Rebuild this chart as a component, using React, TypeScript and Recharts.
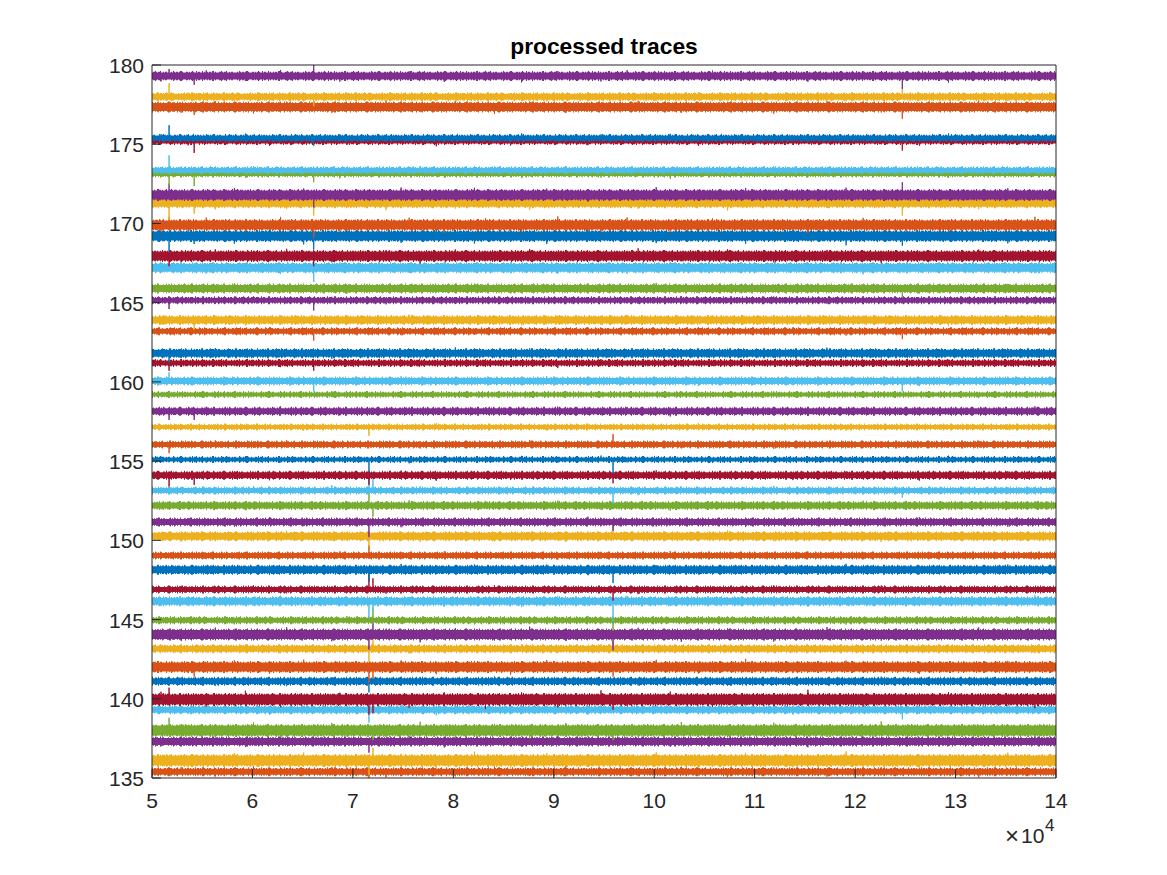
import { Line, LineChart, XAxis, YAxis } from 'recharts';

const xTicks = [50000, 60000, 70000, 80000, 90000, 100000, 110000, 120000, 130000, 140000];
const yTicks = [135, 140, 145, 150, 155, 160, 165, 170, 175, 180];

// baseline of each trace, bottom to top
const levels = [
  135.4, 136.1, 137.3, 138.0, 139.3, 139.95, 141.1, 142.0, 143.15, 144.05, 144.95, 146.15, 146.9, 148.15, 149.05,
  150.25, 151.15, 152.2, 153.15, 154.1, 155.1, 156.05, 157.15, 158.15, 159.2, 160.05, 161.2, 161.8, 163.2, 163.9,
  165.15, 165.9, 167.2, 167.95, 169.2, 169.9, 171.3, 171.8, 173.15, 173.35, 175.2, 175.4, 177.35, 178.0, 179.3,
];

// solid thickness of the noise band of each trace, px
const bandPx = [
  6, 10, 7, 10, 6, 10, 6, 9, 6, 9, 5, 7, 5, 7, 5,
  7, 6, 6, 5, 6, 4, 5, 4, 6, 4, 6, 5, 7, 5, 7,
  5, 7, 8, 9, 9, 9, 8, 9, 5, 5, 5, 5, 8, 6, 7,
];

const colorCycle = ['#D95319', '#EDB120', '#7E2F8E', '#77AC30', '#4DBEEE', '#A2142F', '#0072BD'];

const sampleTimes = [
  [52900, 56300, 60100, 63400, 67900, 73300, 76700, 80200, 84100, 87600, 91200, 98400, 102700, 107300, 111900, 117200, 122600, 132300],
  [53600, 58200, 61700, 65100, 69400, 74800, 78300, 82100, 85700, 89300, 93400, 100200, 104400, 109100, 113800, 119100, 126400, 135200],
  [50900, 55400, 59300, 62800, 68700, 75600, 79100, 83200, 86800, 90400, 94700, 97300, 101600, 105800, 115300, 120800, 129300, 137900],
];

// noise excursions around the baseline, hundredths of a y unit
const noiseRows = [
  [28, -31, 34, -27, 30, -36, 26, -30, 33, -28, 37, -29, 31, -34, 27, -32, 29, -35],
  [-44, 48, -42, 51, -46, 43, -49, 56, -44, 47, -41, 52, -45, 49, -43, 58, -47, 50],
  [-30, 27, -34, 31, -28, 33, -37, 29, -31, 35, -27, 30, -33, 28, -36, 32, -29, 34],
  [41, -46, 52, -40, 48, -43, 55, -47, 42, -50, 46, -41, 53, -44, 49, -42, 57, -45],
  [-25, 29, -31, 24, -27, 30, -34, 26, -28, 23, -30, 27, -25, 32, -29, 24, -26, 31],
  [50, -44, 56, -48, 43, -53, 47, -60, 45, -49, 58, -42, 51, -46, 62, -44, 48, -55],
  [24, -27, 22, -30, 26, -23, 28, -25, 31, -22, 27, -26, 23, -29, 25, -24, 30, -27],
  [-38, 43, -41, 47, -36, 42, -45, 39, -48, 44, -37, 46, -40, 52, -38, 41, -44, 40],
  [26, -24, 29, -27, 23, -31, 25, -22, 28, -26, 30, -23, 27, -25, 24, -29, 26, -28],
  [-39, 44, -36, 47, -42, 38, -49, 41, -37, 50, -40, 43, -46, 39, -44, 48, -38, 45],
  [21, -25, 24, -20, 27, -23, 19, -26, 22, -24, 28, -21, 25, -19, 23, -27, 20, -24],
  [-30, 33, -28, 36, -31, 27, -34, 29, -37, 32, -26, 35, -30, 28, -33, 31, -29, 38],
  [23, -20, 26, -24, 19, -27, 22, -25, 28, -21, 24, -30, 20, -23, 26, -22, 25, -19],
  [-31, 29, -34, 27, -30, 36, -28, 33, -26, 32, -35, 28, -31, 30, -27, 37, -29, 33],
  [20, -24, 22, -19, 26, -23, 25, -21, 19, -27, 23, -20, 28, -22, 24, -25, 21, -26],
  [-33, 28, -30, 35, -27, 31, -36, 29, -32, 26, -34, 30, -28, 37, -31, 27, -35, 29],
  [26, -29, 31, -25, 28, -33, 24, -27, 30, -26, 34, -28, 25, -31, 27, -24, 32, -29],
  [-24, 28, -30, 25, -27, 32, -26, 29, -23, 31, -28, 24, -33, 27, -25, 30, -29, 26],
  [22, -25, 28, -21, 34, -23, 26, -20, 24, -27, 21, -30, 25, -22, 29, -24, 20, -26],
  [-28, 24, -31, 27, -25, 30, -34, 26, -29, 23, -27, 32, -24, 28, -30, 25, -33, 27],
  [17, -20, 22, -18, 19, -24, 21, -17, 23, -19, 25, -18, 20, -22, 18, -21, 24, -19],
  [-22, 25, -20, 27, -23, 19, -26, 21, -24, 28, -19, 22, -25, 20, -27, 23, -21, 24],
  [18, -21, 16, -23, 20, -18, 24, -17, 19, -22, 21, -16, 25, -20, 18, -24, 17, -19],
  [-25, 28, -23, 30, -27, 24, -31, 26, -22, 29, -25, 27, -33, 23, -28, 25, -24, 31],
  [16, -19, 18, -15, 21, -17, 14, -20, 17, -18, 22, -16, 19, -14, 20, -18, 15, -21],
  [-26, 24, -29, 27, -23, 30, -25, 22, -28, 31, -24, 26, -30, 23, -27, 25, -32, 28],
  [21, -24, 19, -27, 23, -20, 25, -22, 18, -33, 24, -21, 26, -19, 22, -25, 20, -23],
  [-29, 33, -27, 30, -35, 28, -31, 38, -26, 32, -30, 27, -34, 29, -28, 36, -31, 30],
  [22, -19, 25, -23, 18, -26, 21, -24, 27, -20, 23, -22, 26, -19, 24, -28, 21, -25],
  [-30, 27, -33, 29, -26, 35, -28, 31, -34, 27, -30, 33, -25, 29, -32, 28, -36, 31],
  [20, -23, 25, -19, 22, -26, 18, -24, 27, -21, 23, -20, 26, -18, 24, -22, 19, -25],
  [-28, 32, -30, 27, -34, 29, -26, 31, -33, 28, -29, 35, -27, 30, -31, 26, -32, 29],
  [33, -36, 30, -38, 35, -31, 40, -34, 29, -37, 32, -39, 36, -30, 34, -41, 31, -35],
  [-38, 42, -35, 45, -40, 37, -47, 41, -36, 44, -39, 48, -34, 43, -41, 38, -46, 40],
  [44, -48, 41, -52, 46, -43, 55, -47, 42, -50, 45, -44, 53, -49, 43, -58, 47, -46],
  [-42, 47, -44, 51, -40, 46, -49, 43, -45, 54, -41, 48, -46, 42, -50, 45, -43, 52],
  [32, -41, 35, -38, 30, -46, 33, -36, 29, -43, 34, -37, 31, -48, 36, -33, 28, -40],
  [-36, 43, -39, 41, -34, 47, -38, 45, -35, 40, -42, 49, -37, 44, -33, 46, -40, 42],
  [-24, 20, -27, 19, -31, 22, -25, 18, -29, 21, -26, 20, -33, 19, -24, 23, -28, 20],
  [23, -18, 26, -17, 22, -19, 28, -16, 24, -18, 27, -17, 21, -19, 25, -16, 23, -18],
  [-27, 18, -30, 17, -25, 19, -33, 18, -28, 16, -26, 19, -31, 17, -24, 18, -29, 20],
  [24, -17, 27, -16, 22, -18, 25, -15, 29, -17, 23, -18, 26, -16, 21, -17, 28, -15],
  [-36, 38, -41, 34, -37, 42, -33, 39, -44, 35, -38, 40, -36, 33, -42, 37, -34, 41],
  [26, -28, 24, -31, 27, -25, 29, -27, 23, -30, 26, -24, 28, -26, 25, -29, 24, -27],
  [-34, 36, -31, 39, -35, 30, -37, 33, -40, 32, -34, 38, -30, 35, -36, 31, -41, 34],
];

// tall transients: [trace, peak]
const spikes51700: number[][] = [
  [44, 179.75], [43, 178.85], [41, 176.2], [39, 174.3], [38, 172.4], [37, 172.5], [36, 170.2], [35, 170.4], [34, 168.2],
  [33, 167.3], [30, 164.6], [27, 161.2], [26, 160.7], [25, 160.6], [23, 157.6], [21, 155.5], [19, 153.4], [5, 140.7], [3, 138.8],
];
const spikes54200: number[][] = [
  [44, 178.75], [42, 176.85], [40, 174.45], [38, 172.35], [36, 170.6], [34, 168.7], [29, 163.3], [23, 157.6], [19, 153.5], [7, 141.4],
];
const spikes66100: number[][] = [
  [44, 180], [43, 177.4], [41, 174.9], [38, 172.6], [37, 171.0], [36, 170.5], [35, 169.1], [34, 168.35], [33, 167.3], [32, 166.3],
  [30, 164.5], [28, 162.6], [26, 160.7], [25, 159.4],
];
const spikes71600: number[][] = [
  [22, 156.6], [20, 154.3], [19, 153.5], [18, 154.0], [17, 153.0], [16, 150.2], [15, 149.6], [14, 149.7], [13, 147.4], [12, 148.2],
  [11, 145.1], [9, 143.1], [8, 142.3], [7, 141.0], [6, 140.4], [5, 139.0], [4, 138.5], [2, 136.6], [1, 135.2], [0, 135.0],
];
const spikes72000: number[][] = [
  [18, 153.9], [17, 151.5], [12, 147.6], [11, 145.5], [10, 145.7], [9, 144.8], [8, 143.8], [7, 141.3], [5, 139.1], [3, 137.4], [1, 136.9],
];
const spikes95900: number[][] = [
  [21, 156.7], [20, 154.2], [19, 153.6], [18, 152.3], [16, 150.6], [15, 150.9], [13, 147.3], [12, 146.2], [11, 144.9], [10, 144.3],
  [9, 143.05], [8, 143.7], [7, 141.4], [5, 139.3], [3, 137.4],
];
const spikes124700: number[][] = [
  [44, 178.5], [43, 178.6], [42, 176.6], [40, 174.6], [37, 172.6], [36, 170.5], [34, 168.6], [31, 165.3], [28, 162.7], [25, 159.4], [18, 152.7], [4, 138.7],
];
const spikeTimes = [51700, 54200, 66100, 71600, 72000, 95900, 124700];
const spikeLists = [spikes51700, spikes54200, spikes66100, spikes71600, spikes72000, spikes95900, spikes124700];

const FONT = 'Liberation Sans, Arial, sans-serif';
const INK = '#262626';
const TICK = 9;
const DENSE_DASH = '1 1 2 1 1 2 1 3 2 1 1 1 3 2 1 1 2 4 1 2';
const SPARSE_DASH = '1 5 1 9 2 7 1 4 1 12 1 6 2 10 1 3';

function traceHairs(i: number) {
  const level = levels[i];
  const hits = sampleTimes[i % 3].map((t, j) => [t, level + noiseRows[i][j] / 100]);
  spikeLists.forEach((list, k) => {
    list.forEach(([trace, peak]) => {
      if (trace === i) hits.push([spikeTimes[k], peak]);
    });
  });
  hits.sort((a, b) => a[0] - b[0]);
  const rows = [{ x: 50000, y: level }];
  hits.forEach(([x, peak]) => {
    rows.push({ x, y: level }, { x, y: peak }, { x, y: level });
  });
  rows.push({ x: 140000, y: level });
  return rows;
}

const BottomTick = ({ x, y, payload }: any) => (
  <g>
    <line x1={x} x2={x} y1={y} y2={y - TICK} stroke={INK} />
    <text x={x} y={y + 30} textAnchor="middle" fontFamily={FONT} fontSize={21} fill={INK}>
      {payload.value / 10000}
    </text>
  </g>
);
const TopTick = ({ x, y }: any) => <line x1={x} x2={x} y1={y} y2={y + TICK} stroke={INK} />;
const LeftTick = ({ x, y, payload }: any) => (
  <g>
    <line x1={x} x2={x + TICK} y1={y} y2={y} stroke={INK} />
    <text x={x - 8} y={y + 8} textAnchor="end" fontFamily={FONT} fontSize={21} fill={INK}>
      {payload.value}
    </text>
  </g>
);
const RightTick = ({ x, y }: any) => <line x1={x} x2={x - TICK} y1={y} y2={y} stroke={INK} />;

export default function App() {
  return (
    <div style={{ position: 'absolute', left: 0, top: 0, width: 1167, height: 875, background: '#fff' }}>
      <LineChart width={1167} height={875} margin={{ top: 64, right: 110, bottom: 96, left: 151 }}>
        <XAxis dataKey="x" type="number" domain={[50000, 140000]} ticks={xTicks} height={1} tickSize={0} tickMargin={0} tickLine={false} stroke={INK} tick={BottomTick} interval={0} />
        <XAxis xAxisId="top" orientation="top" type="number" domain={[50000, 140000]} ticks={xTicks} height={1} tickSize={0} tickMargin={0} tickLine={false} stroke={INK} tick={TopTick} interval={0} />
        <YAxis type="number" domain={[135, 180]} ticks={yTicks} width={1} tickSize={0} tickMargin={0} tickLine={false} stroke={INK} tick={LeftTick} interval={0} />
        <YAxis yAxisId="right" orientation="right" type="number" domain={[135, 180]} ticks={yTicks} width={1} tickSize={0} tickMargin={0} tickLine={false} stroke={INK} tick={RightTick} interval={0} />
        {levels.map((level, i) => {
          const color = colorCycle[i % colorCycle.length];
          const flat = [{ x: 50000, y: level }, { x: 140000, y: level }];
          return [
            <Line key={`sparse${i}`} data={flat} dataKey="y" dot={false} activeDot={false} isAnimationActive={false} stroke={color} strokeWidth={bandPx[i] + 3} strokeDasharray={SPARSE_DASH} strokeDashoffset={i * 11} />,
            <Line key={`dense${i}`} data={flat} dataKey="y" dot={false} activeDot={false} isAnimationActive={false} stroke={color} strokeWidth={bandPx[i] + 1.5} strokeDasharray={DENSE_DASH} strokeDashoffset={i * 7} />,
            <Line key={`band${i}`} data={flat} dataKey="y" dot={false} activeDot={false} isAnimationActive={false} stroke={color} strokeWidth={bandPx[i]} />,
            <Line key={`hair${i}`} data={traceHairs(i)} dataKey="y" dot={false} activeDot={false} isAnimationActive={false} stroke={color} strokeWidth={1} />,
          ];
        })}
      </LineChart>
      <div style={{ position: 'absolute', left: 152, width: 904, top: 33, textAlign: 'center', fontFamily: FONT, fontWeight: 'bold', fontSize: 22.8, lineHeight: '26px', color: '#000' }}>
        processed traces
      </div>
      <span style={{ position: 'absolute', left: 1005, top: 823, fontFamily: FONT, fontSize: 24, lineHeight: '26px', color: INK }}>×</span>
      <span style={{ position: 'absolute', left: 1021, top: 824, fontFamily: FONT, fontSize: 21, lineHeight: '24px', color: INK }}>10</span>
      <span style={{ position: 'absolute', left: 1045, top: 816, fontFamily: FONT, fontSize: 17, lineHeight: '20px', color: INK }}>4</span>
    </div>
  );
}
